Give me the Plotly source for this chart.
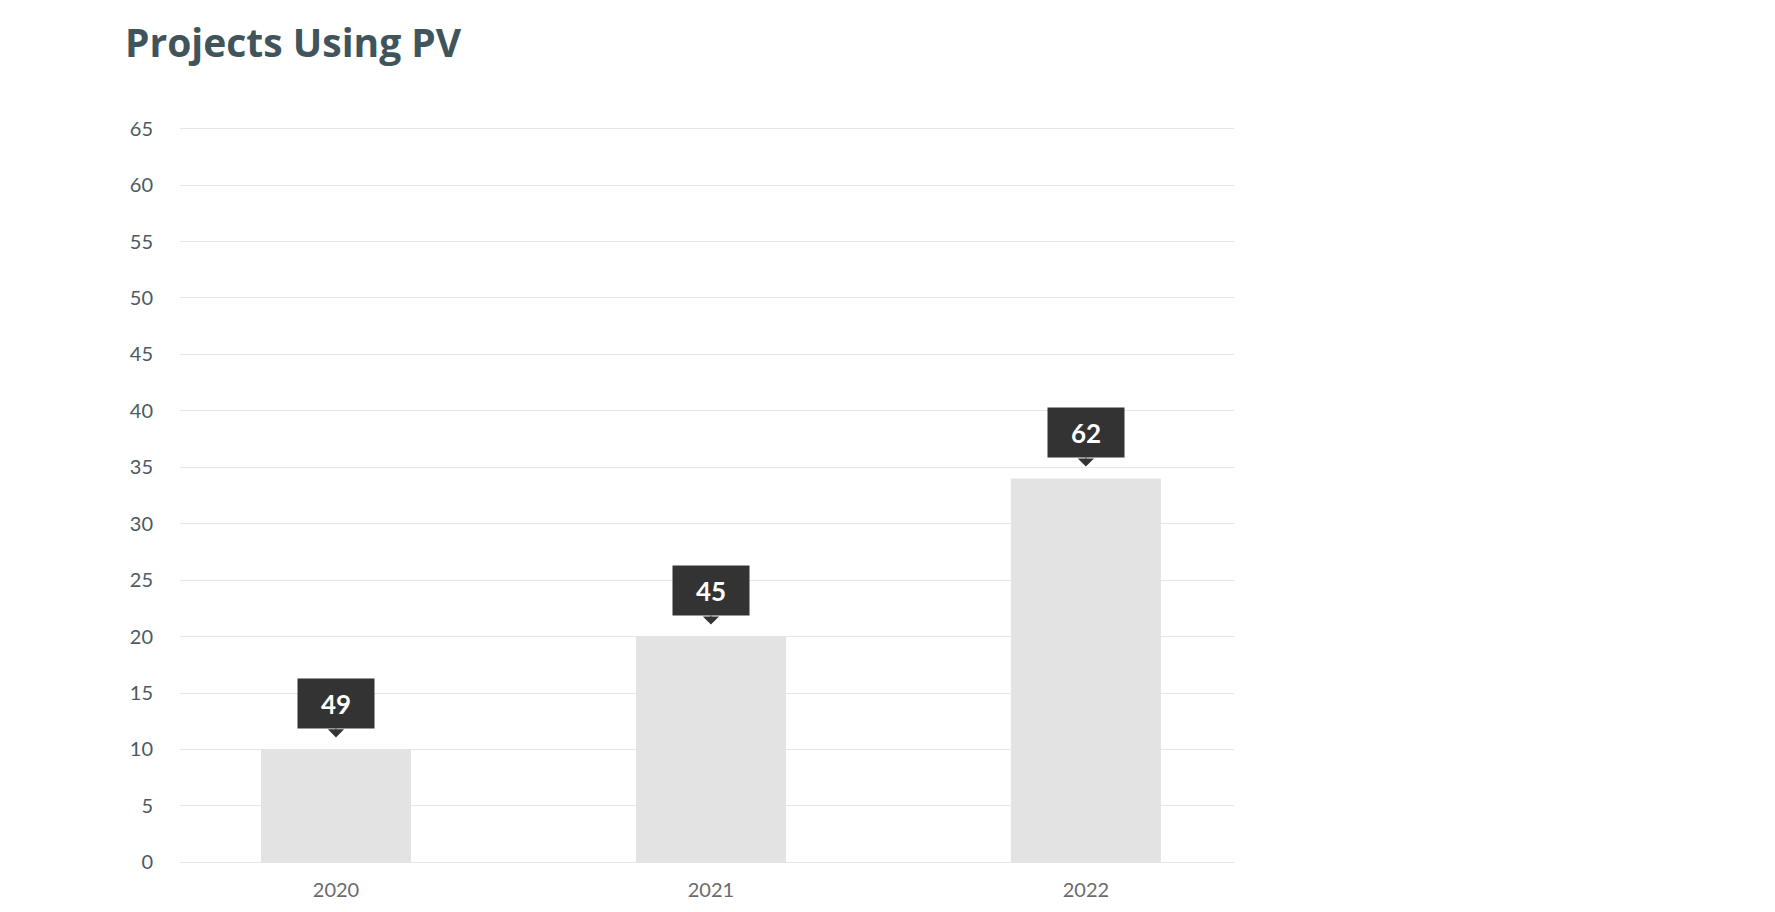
import plotly.graph_objects as go

years = ["2020", "2021", "2022"]
bar_values = [10, 20, 34]
label_values = ["49", "45", "62"]
y_ticks = [0, 5, 10, 15, 20, 25, 30, 35, 40, 45, 50, 55, 60, 65]

fig = go.Figure()
fig.add_trace(go.Bar(
    x=years, y=bar_values, marker=dict(color="#e3e3e3", line=dict(width=0)),
    width=0.4, hoverinfo="skip", showlegend=False,
))

annotations = []
for i, (v, lab) in enumerate(zip(bar_values, label_values)):
    annotations.append(dict(
        x=i, y=v, xref="x", yref="y", text=f"<b>{lab}</b>",
        showarrow=True, ax=0, ay=-46, standoff=12,
        arrowhead=1, arrowsize=2.7, arrowwidth=1, arrowcolor="#333333",
        width=76, height=49, borderpad=0,
        bgcolor="#333333", font=dict(family="Lato, Open Sans, sans-serif", size=26, color="#ffffff"),
    ))

fig.update_layout(
    width=1775, height=912,
    paper_bgcolor="#ffffff", plot_bgcolor="#ffffff",
    margin=dict(l=172, r=549, t=119, b=56),
    title=dict(text="<b>Projects Using PV</b>", x=117/1775, xanchor="left", xref="container",
               y=1-35/912, yanchor="middle", yref="container",
               font=dict(family="Open Sans, sans-serif", size=39, color="#3f555b")),
    xaxis=dict(type="category", range=[-0.416, 2.395], showgrid=False, zeroline=False,
               showline=False, ticks="", ticklabelstandoff=12,
               tickfont=dict(family="Lato, sans-serif", size=20, color="#6b6b6b")),
    yaxis=dict(range=[-0.15, 65.15], tickvals=y_ticks, showgrid=True, gridcolor="#e6e6e6", gridwidth=1,
               zeroline=False, showline=False, ticks="", ticklabelstandoff=26,
               tickfont=dict(family="Lato, sans-serif", size=20, color="#4b5b5f")),
    annotations=annotations,
    bargap=0.6,
)
fig.write_html("out.html")
